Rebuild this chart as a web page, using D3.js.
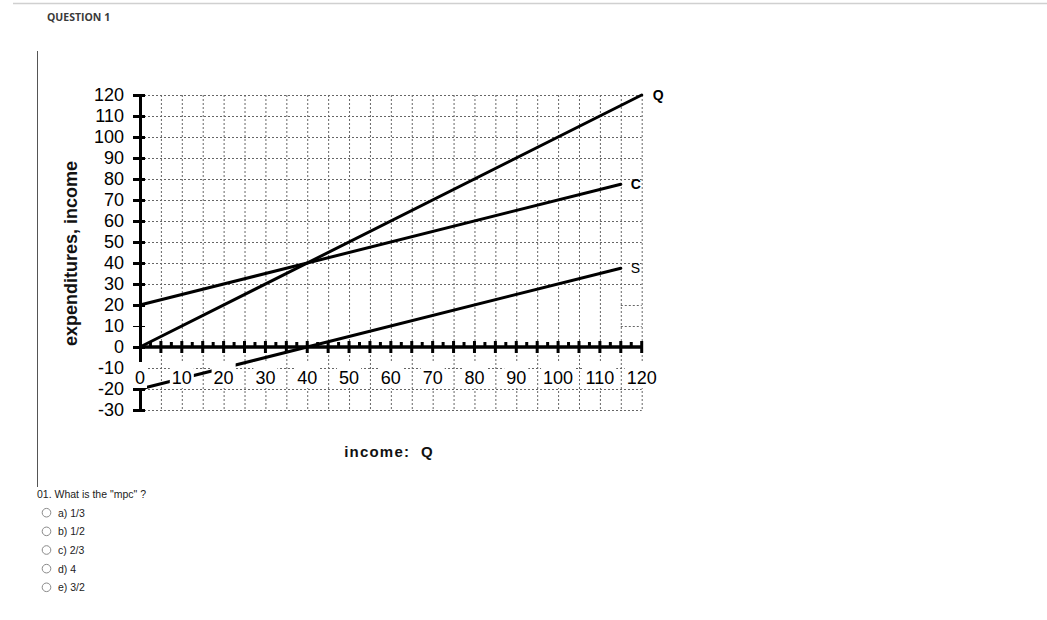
<!DOCTYPE html>
<html>
<head>
<meta charset="utf-8">
<script src="https://cdn.jsdelivr.net/npm/d3@7"></script>
<style>
  body { margin: 0; background: #fff; }
  svg { display: block; font-family: Arial, "Liberation Sans", sans-serif; }
</style>
</head>
<body>
<div id="chart"></div>
<script>
// data
const incomeTicks = [0, 10, 20, 30, 40, 50, 60, 70, 80, 90, 100, 110, 120];
const expenditureTicks = [-30, -20, -10, 0, 10, 20, 30, 40, 50, 60, 70, 80, 90, 100, 110, 120];
const seriesNames = ["Q", "C", "S"];
const seriesIncome = [[0, 120], [0, 115], [0, 115]];
const seriesValues = [[0, 120], [20, 77.5], [-20, 37.5]];
const seriesBold = [true, true, false];
const questionText = "01. What is the \"mpc\" ?";
const answerOptions = ["a) 1/3", "b) 1/2", "c) 2/3", "d) 4", "e) 3/2"];

const width = 1047;
const height = 620;
const svg = d3.select("#chart").append("svg").attr("width", width).attr("height", height);

// page frame
svg.append("line")
  .attr("x1", 13).attr("x2", width).attr("y1", 3.5).attr("y2", 3.5)
  .attr("stroke", "#d0d0d0").attr("stroke-width", 1.5);

svg.append("text")
  .attr("x", 47).attr("y", 20.5)
  .attr("font-family", "'Open Sans', sans-serif")
  .attr("font-size", 10.5).attr("font-weight", 700).attr("fill", "#3a3a3a")
  .text("QUESTION 1");

svg.append("line")
  .attr("x1", 37.5).attr("x2", 37.5).attr("y1", 51).attr("y2", 487)
  .attr("stroke", "#555").attr("stroke-width", 1);

// chart
const x = d3.scaleLinear().domain([0, 120]).range([140, 641.7]);
const y = d3.scaleLinear().domain([-30, 120]).range([410, 95]);

const grid = svg.append("g")
  .attr("stroke", "#666").attr("stroke-width", 1).attr("stroke-dasharray", "2 2");

grid.selectAll("line.v")
  .data(d3.range(5, 121, 5))
  .join("line")
  .attr("class", "v")
  .attr("x1", (d) => x(d) + 0.5).attr("x2", (d) => x(d) + 0.5)
  .attr("y1", y(120)).attr("y2", y(-30));

grid.selectAll("line.h")
  .data(expenditureTicks.filter((d) => d !== 0))
  .join("line")
  .attr("class", "h")
  .attr("x1", (d) => (d === 10 || d === 20 ? x(115) : x(0)))
  .attr("x2", x(120))
  .attr("y1", (d) => y(d) + 0.5).attr("y2", (d) => y(d) + 0.5);

// Q, C, S lines
const line = d3.line().x((p) => x(p[0])).y((p) => y(p[1]));
seriesNames.forEach((name, i) => {
  const pts = seriesIncome[i].map((q, k) => [q, seriesValues[i][k]]);
  svg.append("path")
    .datum(pts)
    .attr("fill", "none")
    .attr("stroke", "#000")
    .attr("stroke-width", 3)
    .attr("stroke-linecap", "round")
    .attr("d", line);

  const last = pts[pts.length - 1];
  svg.append("text")
    .attr("x", x(last[0]) + (name === "Q" ? 11 : 10))
    .attr("y", y(last[1]) + 5)
    .attr("font-size", 14)
    .attr("font-weight", seriesBold[i] ? 700 : 400)
    .text(name);
});

// y axis
const yAxis = svg.append("g")
  .attr("transform", `translate(${x(0)},0)`)
  .call(d3.axisLeft(y).tickValues(expenditureTicks).tickFormat((d) => String(d))
    .tickSize(7).tickSizeOuter(0).tickPadding(9));
yAxis.select(".domain").attr("stroke", "#000").attr("stroke-width", 3);
yAxis.selectAll(".tick line")
  .attr("x2", -7).attr("x1", 5)
  .attr("stroke", "#000")
  .attr("stroke-width", (d) => (d === 10 ? 1 : 3));
yAxis.selectAll(".tick text")
  .attr("font-family", "Arial, 'Liberation Sans', sans-serif")
  .attr("font-size", 18)
  .attr("fill", "#000");

// x axis at zero
const xAxis = svg.append("g").attr("transform", `translate(0,${y(0)})`);
xAxis.append("line")
  .attr("x1", x(0)).attr("x2", x(120)).attr("y1", 0).attr("y2", 0)
  .attr("stroke", "#000").attr("stroke-width", 3.5);
xAxis.selectAll("line.major")
  .data(d3.range(5, 121, 5))
  .join("line")
  .attr("class", "major")
  .attr("x1", (d) => x(d)).attr("x2", (d) => x(d))
  .attr("y1", -6).attr("y2", 6)
  .attr("stroke", "#000").attr("stroke-width", 3);
xAxis.selectAll("line.minor")
  .data(d3.range(2.5, 120, 5))
  .join("line")
  .attr("class", "minor")
  .attr("x1", (d) => x(d)).attr("x2", (d) => x(d))
  .attr("y1", -5).attr("y2", 0)
  .attr("stroke", "#000").attr("stroke-width", 3);

// income labels on white boxes
const xLabels = svg.append("g");
incomeTicks.forEach((v) => {
  const g = xLabels.append("g");
  const rect = g.append("rect").attr("fill", "#fff");
  const t = g.append("text")
    .attr("x", x(v))
    .attr("y", 384)
    .attr("text-anchor", "middle")
    .attr("font-size", 18)
    .attr("fill", "#000")
    .text(v);
  const b = t.node().getBBox();
  rect.attr("x", b.x - 2).attr("width", b.width + 4).attr("y", 362).attr("height", 26);
});

// axis titles
svg.append("text")
  .attr("transform", `translate(77,${253.5}) rotate(-90)`)
  .attr("text-anchor", "middle")
  .attr("font-size", 18)
  .attr("font-weight", 700)
  .attr("fill", "#111")
  .text("expenditures, income");

svg.append("text")
  .attr("x", 389).attr("y", 457)
  .attr("text-anchor", "middle")
  .attr("font-size", 15)
  .attr("font-weight", 700)
  .attr("letter-spacing", 1.2)
  .attr("xml:space", "preserve")
  .attr("fill", "#111")
  .text("income:  Q");

// question block
svg.append("text")
  .attr("x", 37).attr("y", 497.5)
  .attr("font-size", 10.5)
  .attr("fill", "#222")
  .text(questionText);

const options = svg.append("g");
answerOptions.forEach((label, i) => {
  const cy = 512.7 + i * 18.65;
  options.append("circle")
    .attr("cx", 46.5).attr("cy", cy).attr("r", 4.3)
    .attr("fill", "#fff").attr("stroke", "#8a8a8a").attr("stroke-width", 1);
  options.append("text")
    .attr("x", 58).attr("y", cy + 4)
    .attr("font-size", 10.5)
    .attr("fill", "#222")
    .text(label);
});
</script>
</body>
</html>
